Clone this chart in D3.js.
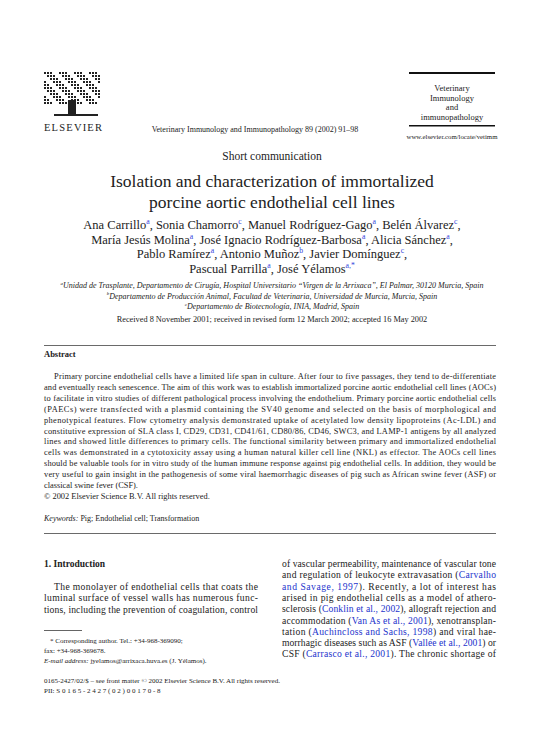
<!DOCTYPE html>
<html><head><meta charset="utf-8">
<script src="https://cdn.jsdelivr.net/npm/d3@7"></script>
<style>body{margin:0;background:#fff}text{font-family:"Liberation Serif",serif;fill:#222}</style>
</head><body><svg id="page"></svg>
<script>
// page text, one line per entry
var journalBox = ["Veterinary", "Immunology", "and", "immunopathology"];
var titleLines = ["Isolation and characterization of immortalized", "porcine aortic endothelial cell lines"];
var authorLines = [
  [["Ana Carrillo",""],["a","s"],[", Sonia Chamorro",""],["c","s"],[", Manuel Rodríguez-Gago",""],["a","s"],[", Belén Álvarez",""],["c","s"],[",",""]],
  [["María Jesús Molina",""],["a","s"],[", José Ignacio Rodríguez-Barbosa",""],["a","s"],[", Alicia Sánchez",""],["a","s"],[",",""]],
  [["Pablo Ramírez",""],["a","s"],[", Antonio Muñoz",""],["b","s"],[", Javier Domínguez",""],["c","s"],[",",""]],
  [["Pascual Parrilla",""],["a","s"],[", José Yélamos",""],["a,*","s"]]
];
var affiliations = [
  ["a","Unidad de Trasplante, Departamento de Cirugía, Hospital Universitario “Virgen de la Arrixaca”, El Palmar, 30120 Murcia, Spain"],
  ["b","Departamento de Producción Animal, Facultad de Veterinaria, Universidad de Murcia, Murcia, Spain"],
  ["c","Departamento de Biotecnología, INIA, Madrid, Spain"]
];
var abstractLines = [
  "Primary porcine endothelial cells have a limited life span in culture. After four to five passages, they tend to de-differentiate",
  "and eventually reach senescence. The aim of this work was to establish immortalized porcine aortic endothelial cell lines (AOCs)",
  "to facilitate in vitro studies of different pathological process involving the endothelium. Primary porcine aortic endothelial cells",
  "(PAECs) were transfected with a plasmid containing the SV40 genome and selected on the basis of morphological and",
  "phenotypical features. Flow cytometry analysis demonstrated uptake of acetylated low density lipoproteins (Ac-LDL) and",
  "constitutive expression of SLA class I, CD29, CD31, CD41/61, CD80/86, CD46, SWC3, and LAMP-1 antigens by all analyzed",
  "lines and showed little differences to primary cells. The functional similarity between primary and immortalized endothelial",
  "cells was demonstrated in a cytotoxicity assay using a human natural killer cell line (NKL) as effector. The AOCs cell lines",
  "should be valuable tools for in vitro study of the human immune response against pig endothelial cells. In addition, they would be",
  "very useful to gain insight in the pathogenesis of some viral haemorrhagic diseases of pig such as African swine fever (ASF) or",
  "classical swine fever (CSF)."
];
var introLeft = [
  "The monolayer of endothelial cells that coats the",
  "luminal surface of vessel walls has numerous func-",
  "tions, including the prevention of coagulation, control"
];
var introRight = [
  [["of vascular permeability, maintenance of vascular tone",""]],
  [["and regulation of leukocyte extravasation (",""],["Carvalho","c"]],
  [["and Savage, 1997","c"],["). Recently, a lot of interest has",""]],
  [["arised in pig endothelial cells as a model of athero-",""]],
  [["sclerosis (",""],["Conklin et al., 2002","c"],["), allograft rejection and",""]],
  [["accommodation (",""],["Van As et al., 2001","c"],["), xenotransplan-",""]],
  [["tation (",""],["Auchincloss and Sachs, 1998","c"],[") and viral hae-",""]],
  [["morrhagic diseases such as ASF (",""],["Vallée et al., 2001","c"],[") or",""]],
  [["CSF (",""],["Carrasco et al., 2001","c"],["). The chronic shortage of",""]]
];
var footnotes = ["* Corresponding author. Tel.: +34-968-369090;", "fax: +34-968-369678."];
var footer = ["0165-2427/02/$ – see front matter © 2002 Elsevier Science B.V. All rights reserved.", "PII: S 0 1 6 5 - 2 4 2 7 ( 0 2 ) 0 0 1 7 0 - 8"];

var W = 544, H = 743;
var svg = d3.select("#page").attr("width", W).attr("height", H);

var put = function(x, y, str, size, opts)
{
  opts = opts || {};
  var t = svg.append("text").attr("x", x).attr("y", y).attr("font-size", size).text(str);
  if (opts.anchor) t.attr("text-anchor", opts.anchor);
  if (opts.italic) t.attr("font-style", "italic");
  if (opts.bold) t.attr("font-weight", "bold");
  if (opts.len) t.attr("textLength", opts.len).attr("lengthAdjust", "spacing");
  return t;
};
// a line made of spans: "" normal, "s" blue superscript, "c" blue citation
var putSpans = function(x, y, parts, size, opts)
{
  opts = opts || {};
  var t = svg.append("text").attr("x", x).attr("y", y).attr("font-size", size);
  if (opts.anchor) t.attr("text-anchor", opts.anchor);
  if (opts.len) t.attr("textLength", opts.len).attr("lengthAdjust", "spacing");
  var raised = false;
  parts.forEach(function(p)
  {
    var s = t.append("tspan").text(p[0]);
    if (p[1] == "s") s.attr("font-size", size * 0.62).attr("dy", -size * 0.38).style("fill", "#3344dd");
    if (p[1] == "c") s.style("fill", "#2233cc");
    if (p[1] != "s" && raised) s.attr("dy", size * 0.38);
    raised = p[1] == "s";
  });
  return t;
};

// Elsevier tree logo (rough block)
var logo = svg.append("g").attr("transform", "translate(44,72)");
d3.range(0, 56, 3).forEach(function(i)
{
  d3.range(0, 32, 3).forEach(function(j)
  {
    if ((i * 7 + j * 13) % 5 < 3) logo.append("rect").attr("x", i).attr("y", j).attr("width", 2).attr("height", 2).attr("fill", "#222");
  });
});
logo.append("rect").attr("x", 24).attr("y", 28).attr("width", 8).attr("height", 16).attr("fill", "#222");
logo.append("rect").attr("x", 10).attr("y", 42).attr("width", 44).attr("height", 2).attr("fill", "#222");
put(44, 131, "ELSEVIER", 10.5, {len: 58});
put(255, 132, "Veterinary Immunology and Immunopathology 89 (2002) 91–98", 8, {anchor: "middle"});

svg.append("rect").attr("x", 409).attr("y", 72).attr("width", 86).attr("height", 2).attr("fill", "#111");
svg.append("rect").attr("x", 409).attr("y", 125).attr("width", 86).attr("height", 1.5).attr("fill", "#111");
journalBox.forEach(function(s, i) { put(452, 91 + i * 9.5, s, 8.5, {anchor: "middle"}); });
put(452, 139, "www.elsevier.com/locate/vetimm", 6.8, {anchor: "middle"});

put(272, 160, "Short communication", 11.5, {anchor: "middle"});
titleLines.forEach(function(s, i) { put(272, 187 + i * 21, s, 17.5, {anchor: "middle"}); });
authorLines.forEach(function(l, i) { putSpans(272, 229 + i * 14.5, l, 12.5, {anchor: "middle"}); });
affiliations.forEach(function(a, i)
{
  putSpans(272, 288 + i * 10.5, [[a[0], "s"], [a[1], ""]], 8, {anchor: "middle"}).attr("font-style", "italic").select("tspan").style("fill", "#222");
});
put(272, 322, "Received 8 November 2001; received in revised form 12 March 2002; accepted 16 May 2002", 8.3, {anchor: "middle"});

svg.append("line").attr("x1", 44).attr("x2", 496).attr("y1", 345.5).attr("y2", 345.5).attr("stroke", "#444").attr("stroke-width", 0.8);
put(44, 357, "Abstract", 8.5, {bold: true});
abstractLines.forEach(function(s, i)
{
  var last = i == abstractLines.length - 1;
  put(i == 0 ? 54 : 44, 379 + i * 10.9, s, 8.4, last ? {} : {len: i == 0 ? 442 : 452});
});
put(44, 499, "© 2002 Elsevier Science B.V. All rights reserved.", 8.4);
svg.append("text").attr("x", 44).attr("y", 521).attr("font-size", 8)
  .call(function(t) { t.append("tspan").attr("font-style", "italic").text("Keywords: "); t.append("tspan").text("Pig; Endothelial cell; Transformation"); });
svg.append("line").attr("x1", 44).attr("x2", 496).attr("y1", 533.5).attr("y2", 533.5).attr("stroke", "#444").attr("stroke-width", 0.8);

put(44, 567, "1.  Introduction", 9.5, {bold: true});
introLeft.forEach(function(s, i) { put(i == 0 ? 54 : 44, 590 + i * 11.3, s, 9.6, {len: i == 0 ? 204 : 214}); });
introRight.forEach(function(l, i) { putSpans(282, 567 + i * 11.3, l, 9.6, {len: 214}); });

svg.append("line").attr("x1", 44).attr("x2", 82).attr("y1", 630.5).attr("y2", 630.5).attr("stroke", "#222").attr("stroke-width", 0.7);
put(50, 643, footnotes[0], 7);
put(44, 653, footnotes[1], 7);
svg.append("text").attr("x", 44).attr("y", 662.5).attr("font-size", 7)
  .call(function(t) { t.append("tspan").attr("font-style", "italic").text("E-mail address: "); t.append("tspan").text("jyelamos@arrixaca.huva.es (J. Yélamos)."); });
put(44, 683, footer[0], 7);
put(44, 693, footer[1], 7);
</script></body></html>
